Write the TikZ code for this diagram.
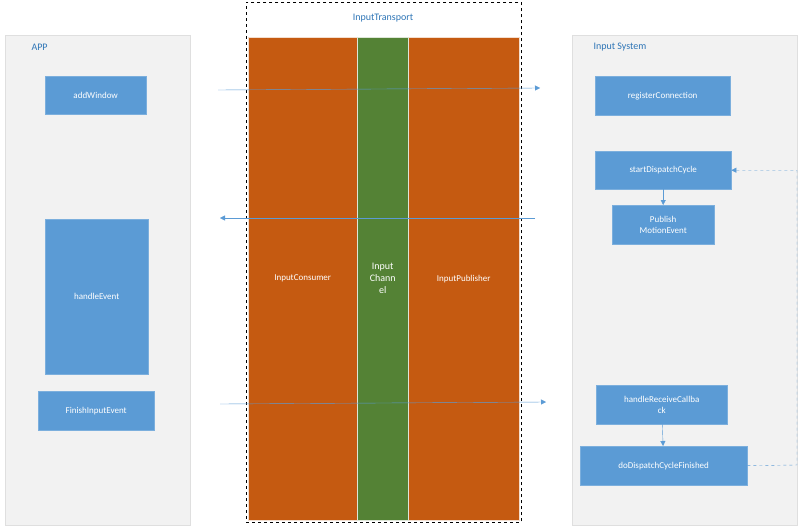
\documentclass[tikz,border=0pt]{standalone}
\usepackage{fontspec}
\setmainfont{Carlito}
\usetikzlibrary{arrows.meta}
\definecolor{boxblue}{HTML}{5B9BD5}
\definecolor{panelgray}{HTML}{F2F2F2}
\definecolor{rust}{HTML}{C55A11}
\definecolor{leaf}{HTML}{548235}
\definecolor{titleblue}{HTML}{2E75B6}
\tikzset{
    panel/.style={draw=gray!25, fill=panelgray},
    callbox/.style={draw=boxblue!80!white, fill=boxblue, text=white, font=\small, align=center, inner sep=0pt},
    flow/.style={boxblue, -{Triangle[length=5pt, width=5pt]}},
}

\begin{document}
\begin{tikzpicture}[x=1pt, y=-1pt]
    \useasboundingbox (0, 0) rectangle (800, 532);
    \node[panel, minimum width=185, minimum height=490, anchor=north west] (app) at (5, 35) {};
    \node[panel, minimum width=225, minimum height=490, anchor=north west] (sys) at (572, 35) {};
    \node[text=titleblue, anchor=west] (applabel) at (28, 47) {APP};
    \node[text=titleblue, anchor=west] (syslabel) at (590, 47) {Input System};
    \node[draw, dashed, thick, minimum width=275, minimum height=520, anchor=north west] (transport) at (246, 2) {};
    \node[text=titleblue] (translabel) at (383, 18) {InputTransport};
    \node[draw=white!80!rust, fill=rust, text=white, font=\small, minimum width=109, minimum height=483, anchor=north west] (consumer) at (248, 37) {InputConsumer};
    \node[draw=white!80!rust, fill=rust, text=white, font=\small, minimum width=111, minimum height=483, anchor=north west] (publisher) at (408, 37) {InputPublisher};
    \node[draw=white!80!leaf, fill=leaf, text=white, align=center, minimum width=51, minimum height=483, anchor=north west] (channel) at (357, 37) {Input\\Chann\\el};
    % app side
    \node[callbox, minimum width=101, minimum height=38, anchor=north west] (addwin) at (45, 76) {addWindow};
    \node[callbox, minimum width=103, minimum height=155, anchor=north west] (handle) at (45, 219) {handleEvent};
    \node[callbox, minimum width=116, minimum height=39, anchor=north west] (finish) at (38, 391) {FinishInputEvent};
    % input system side
    \node[callbox, minimum width=135, minimum height=39, anchor=north west] (register) at (595, 76) {registerConnection};
    \node[callbox, minimum width=136, minimum height=38, anchor=north west] (start) at (595, 151) {startDispatchCycle};
    \node[callbox, minimum width=102, minimum height=39, anchor=north west] (publish) at (612, 205) {Publish\\MotionEvent};
    \node[callbox, minimum width=131, minimum height=39, anchor=north west] (receive) at (596, 385) {handleReceiveCallba\\ck};
    \node[callbox, minimum width=167, minimum height=39, anchor=north west] (done) at (580, 446) {doDispatchCycleFinished};
    % cross arrows
    \coordinate (a1) at (218, 90);
    \coordinate (b1) at (540, 88);
    \coordinate (a2) at (535, 218);
    \coordinate (b2) at (220, 218);
    \coordinate (a3) at (220, 404);
    \coordinate (b3) at (546, 402);
    \coordinate (loop) at (797, 465);
    \draw[flow] (a1) -- (b1);
    \draw[flow] (a2) -- (b2);
    \draw[flow] (a3) -- (b3);
    \draw[flow] (start) -- (publish);
    \draw[flow] (receive) -- (done);
    \draw[flow, dashed] (done.east) -- (loop) |- (start.east);
\end{tikzpicture}
\end{document}
